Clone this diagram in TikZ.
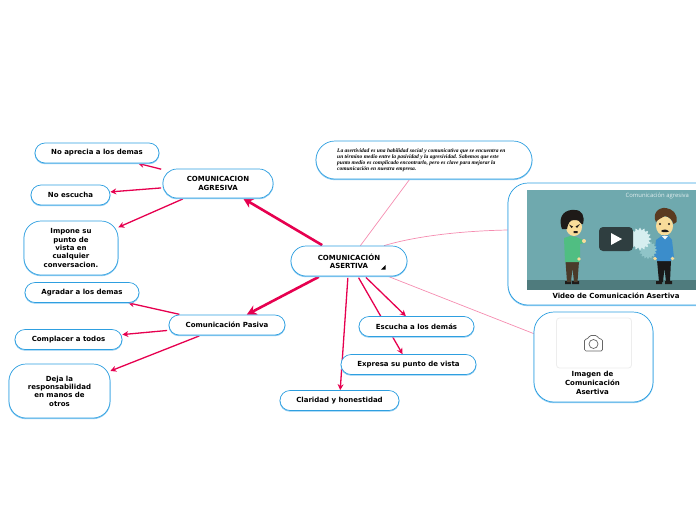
\documentclass[tikz,border=0pt]{standalone}
\usepackage{fontspec}
\setmainfont{DejaVu Sans}
\newfontfamily\notefont{Liberation Serif}
\newfontfamily\capfont{Open Sans}
\usetikzlibrary{arrows.meta,backgrounds}
\definecolor{boxblue}{HTML}{2E9FE0}
\definecolor{boxlight}{HTML}{8CCBF2}
\definecolor{linkred}{HTML}{E6004F}
\definecolor{linkpink}{HTML}{F58CB0}
\definecolor{teal}{HTML}{6FA9AE}
\definecolor{floorc}{HTML}{4F7B7D}
\definecolor{skin}{HTML}{F8DC9A}
\definecolor{hairdark}{HTML}{1E1A18}
\definecolor{hairbrown}{HTML}{5A3A20}
\definecolor{shirtgreen}{HTML}{50BE82}
\definecolor{shirtblue}{HTML}{3B8DCB}
\definecolor{trouser}{HTML}{4A3B2A}
\definecolor{burstpale}{HTML}{D6EEF0}
\definecolor{burstmid}{HTML}{8FC4C8}
\definecolor{playdark}{HTML}{2F3E40}
\tikzset{
  sz/.style 2 args={minimum width=#1pt,minimum height=#2pt},
  topic/.style={draw=boxblue,fill=white,line width=0.7pt,inner sep=0pt,align=center,
    font=\bfseries\fontsize{7}{8.3}\selectfont,text=black,rounded corners=#1,
    preaction={draw=boxlight,line width=1pt,transform canvas={yshift=-0.7pt}}},
  topic/.default=10pt,
  heavy/.style={draw=linkred,line width=2.6pt,shorten <=1pt,-{Stealth[length=10pt,width=10pt]}},
  medium/.style={draw=linkred,line width=1.3pt,shorten <=1.5pt,-{Stealth[length=6pt,width=6pt]}},
  faint/.style={draw=linkpink,line width=0.7pt},
}
\begin{document}
\begin{tikzpicture}[x=1pt,y=-1pt]
\useasboundingbox (0,0) rectangle (696,520);
% nodes
\node[topic=15pt,sz={116}{30}] (root) at (349,261) {COMUNICACIÓN\\ASERTIVA};
\node[topic=14pt,sz={110}{29}] (agr) at (218,183.5) {COMUNICACION\\AGRESIVA};
\node[topic,sz={124}{20}] (a1) at (97,153) {No aprecia a los demas};
\node[topic,sz={79}{20}] (a2) at (70.5,195) {No escucha};
\node[topic=17pt,sz={94}{54}] (a3) at (71,248) {Impone su\\punto de\\vista en\\cualquier\\conversacion.};
\node[topic,sz={116}{20}] (pas) at (227,325) {Comunicación Pasiva};
\node[topic,sz={114}{20}] (p1) at (82,292.5) {Agradar a los demas};
\node[topic,sz={107}{20}] (p2) at (68.5,339.5) {Complacer a todos};
\node[topic=17pt,sz={101}{54}] (p3) at (59.5,391) {Deja la\\responsabilidad\\en manos de\\otros};
\node[topic,sz={115}{20}] (esc) at (416.5,326.5) {Escucha a los demás};
\node[topic,sz={135}{20}] (exp) at (408.5,364.5) {Expresa su punto de vista};
\node[topic,sz={119}{20}] (cla) at (339.5,400.5) {Claridad y honestidad};
\node[topic=19pt,sz={216}{38}] (note) at (424,160) {};
\node[inner sep=0pt,align=left,text=black,anchor=west,font=\notefont\bfseries\itshape\fontsize{5.5}{6}\selectfont] (notetext) at (337,160.5)
  {La asertividad es una habilidad social y comunicativa que se encuentra en\\un término medio entre la pasividad y la agresividad. Sabemos que este\\punto medio es complicado encontrarlo, pero es clave para mejorar la\\comunicación en nuestra empresa.};
\node[topic=20pt,sz={216}{122}] (video) at (616,244) {};
\node[topic=20pt,sz={119}{90}] (img) at (593.5,357) {};
% video picture
\fill[teal] (527,190) rectangle (705,290);
\fill[floorc] (527,279.5) rectangle (705,290);
\node[inner sep=0pt,anchor=west,text=white!80!teal,font=\capfont\fontsize{5.9}{7}\selectfont] (vtitle) at (625.5,196) {Comunicación agresiva};
% left figure
\fill[hairdark] (565,281) rectangle (571,284) (572,281) rectangle (579,284);
\fill[trouser] (565.5,261) -- (579,261) -- (577.5,282) -- (574,282) -- (572.5,268) -- (571,282) -- (567,282) -- cycle;
\fill[shirtgreen] (564,238) -- (570,236) -- (576,237) -- (583,240) -- (584,243) -- (580,244) -- (580,262) -- (565,262) -- cycle;
\fill[skin] (584,241) circle (2pt) (579,259) circle (1.8pt);
\fill[skin] (574,227) circle[x radius=8pt,y radius=9pt];
\fill[hairdark] (562,229) .. controls (557,215) and (566,209) .. (575,210) .. controls (582,210) and (585,216) .. (583,224) -- (581.5,224) .. controls (580,221) and (578,220) .. (574,220) .. controls (570,220) and (568,223) .. (567,229) -- cycle;
\fill[hairdark] (569,224.5) -- (573,226.5) -- (571.5,228) -- cycle (580,224) -- (575.5,226.5) -- (577,228) -- cycle (573.5,231) rectangle (577.5,233);
% right figure
\fill[hairdark] (656,281) rectangle (662,284) (665,281) rectangle (672,284);
\fill[black!90] (657,260) -- (671,260) -- (670,282) -- (666,282) -- (664.5,268) -- (663,282) -- (659,282) -- cycle;
\fill[shirtblue] (656,240) -- (663,235) -- (668,235) -- (672,240) -- (674,258) -- (671,258) -- (671,261) -- (657,261) -- (657,258) -- (654,258) -- cycle;
\fill[skin] (655,258.5) circle (1.8pt) (672.5,258.5) circle (1.8pt);
\fill[white!90!teal] (661.5,236) -- (668,236) -- (665,239.5) -- cycle;
\fill[skin] (664.5,226) circle[x radius=8.5pt,y radius=9.5pt];
\fill[hairbrown] (656,222) .. controls (652,214) and (658,207) .. (666,208) .. controls (672,209) and (678,213) .. (676.5,222) -- (673.5,224) .. controls (672,219) and (669,217) .. (665,216) .. controls (662,218) and (658,219) .. (656,222) -- cycle;
\fill[hairdark] (660,224) circle (1.2pt) (669,224) circle (1.2pt);
\fill[hairdark] (661,231) .. controls (663,229) and (667,229) .. (669,231.5) -- (667,232) -- (663,232) -- cycle;
% bursts and play button
\fill[burstmid] plot[samples=61,domain=0:360] ({648+(8+1.2*cos(16*\x))*cos(\x)},{250+(8+1.2*cos(16*\x))*sin(\x)}) -- cycle;
\fill[burstpale] plot[samples=61,domain=0:360] ({640+(10+1.4*cos(16*\x))*cos(\x)},{239+(10+1.4*cos(16*\x))*sin(\x)}) -- cycle;
\fill[playdark,rounded corners=4pt] (599,227) rectangle (633,251);
\fill[white] (611,233) -- (622,239) -- (611,245) -- cycle;
% captions
\node[font=\bfseries\fontsize{7}{8.3}\selectfont,inner sep=0pt] (vcap) at (616,295.5) {Video de Comunicación Asertiva};
\node[draw=black!7,fill=white,rounded corners=3pt,inner sep=0pt,sz={75}{50},line width=0.8pt] (imgbox) at (594,343) {};
\node[font=\bfseries\fontsize{7}{8.7}\selectfont,inner sep=0pt,align=center] (icap) at (592.5,383) {Imagen de\\Comunicación\\Asertiva};
% camera icon
\draw[black!60,line width=0.7pt,rounded corners=1.5pt] (584.5,339) -- (588,339) -- (589.5,335.5) -- (597,335.5) -- (599,339) -- (602.5,339) -- (602.5,351) -- (584.5,351) -- cycle;
\draw[black!60,line width=0.7pt] (593.5,344) circle (4.5pt);
% root marker
\fill[black] (381,269.5) -- (385.5,269.5) -- (385.5,265) -- cycle;
% connectors
\begin{scope}[on background layer]
\draw[heavy] (root) -- (agr);
\draw[heavy] (root) -- (pas);
\draw[medium] (agr) -- (a1);
\draw[medium] (agr) -- (a2);
\draw[medium] (agr) -- (a3);
\draw[medium] (pas) -- (p1);
\draw[medium] (pas) -- (p2);
\draw[medium] (pas) -- (p3);
\draw[medium] (root) -- (esc);
\draw[medium] (root) -- (exp);
\draw[medium] (root) -- (cla);
\draw[faint] (note) -- (root);
\draw[faint] (img) -- (root);
\draw[faint] ([yshift=14pt]video.west) .. controls +(-50,1) and +(30,-9) .. ([xshift=35pt]root.north);
\end{scope}
\end{tikzpicture}
\end{document}
